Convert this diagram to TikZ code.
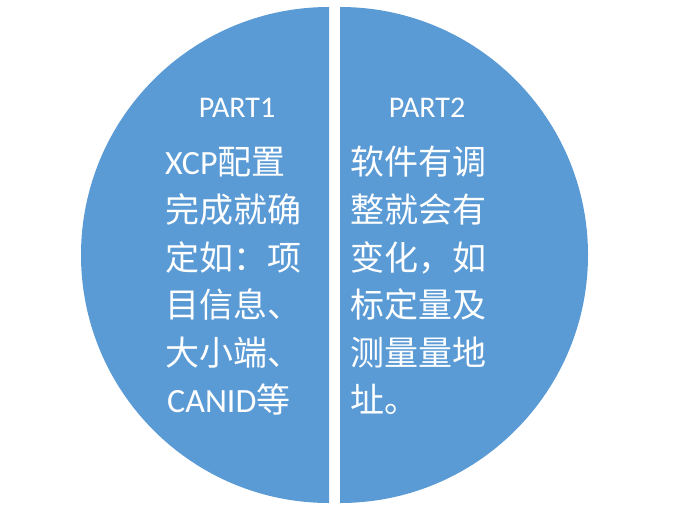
\documentclass[tikz,border=0pt]{standalone}
\usepackage{fontspec}
\setmainfont{Carlito}
\newfontfamily\cjk{Noto Sans CJK SC}
\definecolor{pie}{HTML}{5B9BD5}
\begin{document}
\begin{tikzpicture}[x=1pt,y=-1pt,
  ln/.style={text=white,font=\fontsize{34}{34}\selectfont,anchor=west,inner sep=0pt,text height=26pt,text depth=6pt},
  hd/.style={text=white,font=\fontsize{30}{30}\selectfont,inner sep=0pt}]
\useasboundingbox (0,0) rectangle (679,513);
\begin{scope}
\clip (0,0) rectangle (329,513);
\fill[pie] (329,255) circle[radius=248pt];
\end{scope}
\begin{scope}
\clip (340,0) rectangle (679,513);
\fill[pie] (340,255) circle[radius=248pt];
\end{scope}
\node[hd] (h1) at (237,108) {PART1};
\node[hd] (h2) at (427,108) {PART2};
\node[ln] (l1) at (165,165) {XCP\cjk{配置}};
\node[ln] (l2) at (165,212) {\cjk{完成就确}};
\node[ln] (l3) at (165,260) {\cjk{定如：项}};
\node[ln] (l4) at (165,307) {\cjk{目信息、}};
\node[ln] (l5) at (165,355) {\cjk{大小端、}};
\node[ln] (l6) at (167,402) {CANID\cjk{等}};
\node[ln] (r1) at (350,165) {\cjk{软件有调}};
\node[ln] (r2) at (350,212) {\cjk{整就会有}};
\node[ln] (r3) at (350,260) {\cjk{变化，如}};
\node[ln] (r4) at (350,307) {\cjk{标定量及}};
\node[ln] (r5) at (350,355) {\cjk{测量量地}};
\node[ln] (r6) at (350,402) {\cjk{址。}};
\end{tikzpicture}
\end{document}
